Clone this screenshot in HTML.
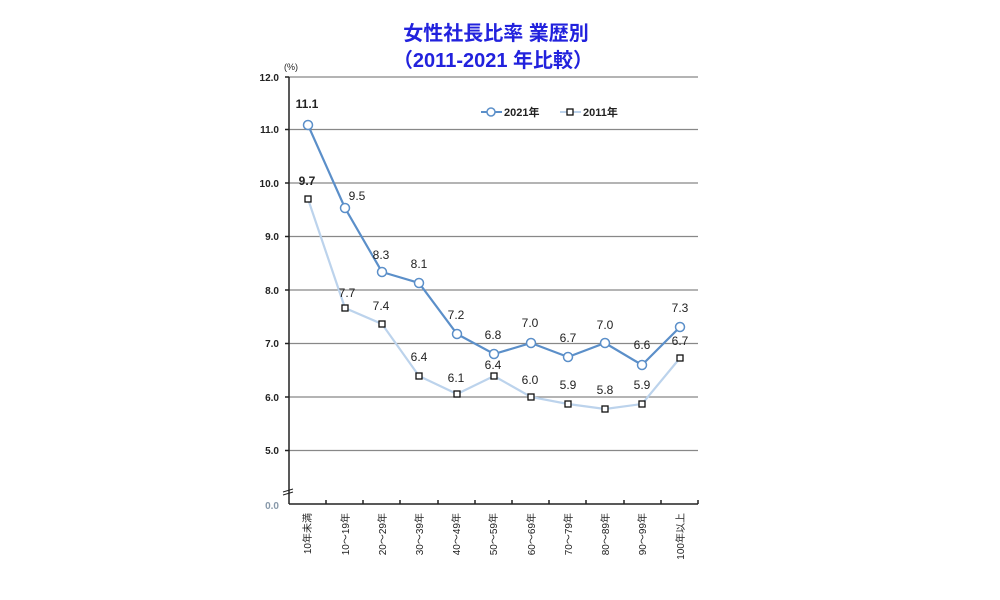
<!DOCTYPE html>
<html><head><meta charset="utf-8"><style>
body{margin:0;background:#fff;}
svg{display:block;font-family:"Liberation Sans","Noto Sans CJK JP",sans-serif;}
</style></head><body>
<svg width="1000" height="600" viewBox="0 0 1000 600">
<text x="496" y="40" text-anchor="middle" font-size="20" font-weight="bold" fill="#2222dd">女性社長比率  業歴別</text>
<text x="493" y="67" text-anchor="middle" font-size="20" font-weight="bold" fill="#2222dd">（2011-2021 年比較）</text>
<text x="284" y="70" font-size="9" fill="#222">(%)</text>
<g stroke="#888" stroke-width="1.2">
<line x1="289" y1="77" x2="698" y2="77"/>
<line x1="289" y1="129.5" x2="698" y2="129.5"/>
<line x1="289" y1="183" x2="698" y2="183"/>
<line x1="289" y1="236.5" x2="698" y2="236.5"/>
<line x1="289" y1="290" x2="698" y2="290"/>
<line x1="289" y1="343.5" x2="698" y2="343.5"/>
<line x1="289" y1="397" x2="698" y2="397"/>
<line x1="289" y1="450.5" x2="698" y2="450.5"/>
</g>
<g stroke="#222" stroke-width="1.5" fill="none">
<line x1="289" y1="77" x2="289" y2="504"/>
<line x1="289" y1="504" x2="698" y2="504"/>
<line x1="285" y1="77" x2="289" y2="77"/><line x1="285" y1="129.5" x2="289" y2="129.5"/><line x1="285" y1="183" x2="289" y2="183"/><line x1="285" y1="236.5" x2="289" y2="236.5"/><line x1="285" y1="290" x2="289" y2="290"/><line x1="285" y1="343.5" x2="289" y2="343.5"/><line x1="285" y1="397" x2="289" y2="397"/><line x1="285" y1="450.5" x2="289" y2="450.5"/>
<path d="M326 504v-4M363 504v-4M400 504v-4M438 504v-4M475 504v-4M512 504v-4M549 504v-4M586 504v-4M624 504v-4M661 504v-4M698 504v-4"/>
<path d="M283 492 l10 -3 M283 495 l10 -3" stroke-width="1"/>
</g>
<g font-size="10" font-weight="bold" fill="#222" text-anchor="end">
<text x="279" y="81">12.0</text><text x="279" y="133">11.0</text><text x="279" y="187">10.0</text><text x="279" y="240">9.0</text><text x="279" y="294">8.0</text><text x="279" y="347">7.0</text><text x="279" y="401">6.0</text><text x="279" y="454">5.0</text>
<text x="279" y="509" fill="#8899aa">0.0</text>
</g>
<polyline fill="none" stroke="#bcd3ec" stroke-width="2.2" points="308,199 345,308 382,324 419,376 457,394 494,376 531,397 568,404 605,409 642,404 680,358"/>
<polyline fill="none" stroke="#5b8fc9" stroke-width="2.2" points="308,125 345,208 382,272 419,283 457,334 494,354 531,343 568,357 605,343 642,365 680,327"/>
<g fill="#fff" stroke="#5b8fc9" stroke-width="1.5">
<circle cx="308" cy="125" r="4.5"/><circle cx="345" cy="208" r="4.5"/><circle cx="382" cy="272" r="4.5"/><circle cx="419" cy="283" r="4.5"/><circle cx="457" cy="334" r="4.5"/><circle cx="494" cy="354" r="4.5"/><circle cx="531" cy="343" r="4.5"/><circle cx="568" cy="357" r="4.5"/><circle cx="605" cy="343" r="4.5"/><circle cx="642" cy="365" r="4.5"/><circle cx="680" cy="327" r="4.5"/>
</g>
<g fill="#fff" stroke="#111" stroke-width="1.3">
<rect x="305" y="196" width="6" height="6"/><rect x="342" y="305" width="6" height="6"/><rect x="379" y="321" width="6" height="6"/><rect x="416" y="373" width="6" height="6"/><rect x="454" y="391" width="6" height="6"/><rect x="491" y="373" width="6" height="6"/><rect x="528" y="394" width="6" height="6"/><rect x="565" y="401" width="6" height="6"/><rect x="602" y="406" width="6" height="6"/><rect x="639" y="401" width="6" height="6"/><rect x="677" y="355" width="6" height="6"/>
</g>
<g font-size="12" fill="#222" text-anchor="middle">
<text x="307" y="108" font-weight="bold">11.1</text>
<text x="307" y="185" font-weight="bold">9.7</text>
<text x="357" y="200">9.5</text><text x="347" y="297">7.7</text>
<text x="381" y="259">8.3</text><text x="381" y="310">7.4</text>
<text x="419" y="268">8.1</text><text x="419" y="361">6.4</text>
<text x="456" y="319">7.2</text><text x="456" y="382">6.1</text>
<text x="493" y="339">6.8</text><text x="493" y="369">6.4</text>
<text x="530" y="327">7.0</text><text x="530" y="384">6.0</text>
<text x="568" y="342">6.7</text><text x="568" y="389">5.9</text>
<text x="605" y="329">7.0</text><text x="605" y="394">5.8</text>
<text x="642" y="349">6.6</text><text x="642" y="389">5.9</text>
<text x="680" y="312">7.3</text><text x="680" y="345">6.7</text>
</g>
<line x1="481" y1="112" x2="502" y2="112" stroke="#5b8fc9" stroke-width="2"/>
<circle cx="491" cy="112" r="4" fill="#fff" stroke="#5b8fc9" stroke-width="1.5"/>
<text x="504" y="116" font-size="11" font-weight="bold" fill="#222">2021年</text>
<line x1="560" y1="112" x2="581" y2="112" stroke="#bcd3ec" stroke-width="2"/>
<rect x="567" y="109" width="6" height="6" fill="#fff" stroke="#111" stroke-width="1.3"/>
<text x="583" y="116" font-size="11" font-weight="bold" fill="#222">2011年</text>
<g font-size="10" fill="#222">
<text transform="translate(311,513) rotate(-90)" text-anchor="end">10年未満</text>
<text transform="translate(349,513) rotate(-90)" text-anchor="end">10～19年</text>
<text transform="translate(386,513) rotate(-90)" text-anchor="end">20～29年</text>
<text transform="translate(423,513) rotate(-90)" text-anchor="end">30～39年</text>
<text transform="translate(460,513) rotate(-90)" text-anchor="end">40～49年</text>
<text transform="translate(497,513) rotate(-90)" text-anchor="end">50～59年</text>
<text transform="translate(535,513) rotate(-90)" text-anchor="end">60～69年</text>
<text transform="translate(572,513) rotate(-90)" text-anchor="end">70～79年</text>
<text transform="translate(609,513) rotate(-90)" text-anchor="end">80～89年</text>
<text transform="translate(646,513) rotate(-90)" text-anchor="end">90～99年</text>
<text transform="translate(684,513) rotate(-90)" text-anchor="end">100年以上</text>
</g>
</svg>
</body></html>
